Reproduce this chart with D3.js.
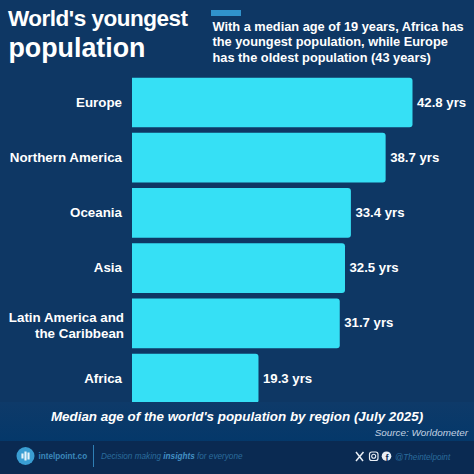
<!DOCTYPE html>
<html>
<head>
<meta charset="utf-8">
<script src="https://cdn.jsdelivr.net/npm/d3@7"></script>
<style>
html, body { margin: 0; padding: 0; background: #0e3764; }
svg { display: block; font-family: "Liberation Sans", Arial, sans-serif; }
</style>
</head>
<body>
<div id="chart"></div>
<script>
const regions = ["Europe", "Northern America", "Oceania", "Asia", "Latin America and|the Caribbean", "Africa"];
const medianAges = [42.8, 38.7, 33.4, 32.5, 31.7, 19.3];
const titleLines = ["World's youngest", "population"];
const subtitleLines = [
    "With a median age of 19 years, Africa has",
    "the youngest population, while Europe",
    "has the oldest population (43 years)"
];
const footerIconBars = [5, 9, 7];

const SIZE = 474;

const svg = d3.select("#chart").append("svg")
    .attr("width", SIZE)
    .attr("height", SIZE);

const defs = svg.append("defs");
const bandGradient = defs.append("linearGradient")
    .attr("id", "band")
    .attr("x1", 0).attr("x2", 0).attr("y1", 0).attr("y2", 1);
bandGradient.append("stop").attr("offset", 0).attr("stop-color", "#0e3a69");
bandGradient.append("stop").attr("offset", 1).attr("stop-color", "#04386a");

svg.append("rect")
    .attr("width", SIZE).attr("height", SIZE)
    .attr("fill", "#0e3764");

// title block, the second line is set larger
svg.append("g").selectAll("text")
    .data(titleLines)
    .join("text")
    .attr("x", (d, i) => i === 0 ? 8 : 8.5)
    .attr("y", (d, i) => i === 0 ? 26 : 57)
    .attr("fill", "#fff")
    .attr("font-size", (d, i) => i === 0 ? 22.5 : 26.8)
    .attr("font-weight", 700)
    .attr("letter-spacing", (d, i) => i === 0 ? -0.5 : 0)
    .text(d => d);

svg.append("rect")
    .attr("x", 211).attr("y", 10).attr("width", 30).attr("height", 6)
    .attr("fill", "#3093cc");

svg.append("g").selectAll("text")
    .data(subtitleLines)
    .join("text")
    .attr("x", 212.5)
    .attr("y", (d, i) => 30.5 + i * 15.6)
    .attr("fill", "#fff")
    .attr("font-size", 12.8)
    .attr("font-weight", 700)
    .text(d => d);

// bars
const x = d3.scaleLinear().domain([0, 42.8]).range([132, 412.5]);
const y = d3.scaleBand()
    .domain(regions)
    .range([74.9, 406.1])
    .paddingInner(0.1)
    .paddingOuter(0.05);

const barPath = d => {
    const x0 = x(0), x1 = x(d.value), y0 = y(d.region), h = y.bandwidth(), r = 3;
    const p = d3.path();
    p.moveTo(x0, y0);
    p.lineTo(x1 - r, y0);
    p.quadraticCurveTo(x1, y0, x1, y0 + r);
    p.lineTo(x1, y0 + h - r);
    p.quadraticCurveTo(x1, y0 + h, x1 - r, y0 + h);
    p.lineTo(x0, y0 + h);
    p.closePath();
    return p.toString();
};

const rows = regions.map((region, i) => ({ region, value: medianAges[i] }));

svg.append("g").selectAll("path")
    .data(rows)
    .join("path")
    .attr("d", barPath)
    .attr("fill", "#36e0f5");

svg.append("g").selectAll("text")
    .data(rows)
    .join("text")
    .attr("x", d => x(d.value) + 4.5)
    .attr("y", d => y(d.region) + y.bandwidth() / 2 + 4)
    .attr("fill", "#fff")
    .attr("font-size", 13.2)
    .attr("font-weight", 700)
    .text(d => d.value.toFixed(1) + " yrs");

const labels = svg.append("g").selectAll("text")
    .data(rows)
    .join("text")
    .attr("text-anchor", "end")
    .attr("fill", "#fff")
    .attr("font-size", 13.35)
    .attr("font-weight", 700)
    .attr("y", d => y(d.region) + y.bandwidth() / 2 + 4);

labels.selectAll("tspan")
    .data(d => d.region.split("|").map((t, i, all) => ({ t, i, n: all.length })))
    .join("tspan")
    .attr("x", d => d.n === 1 ? 122 : 124)
    .attr("dy", d => d.n === 1 ? 0 : (d.i === 0 ? -5.5 : 16.5))
    .text(d => d.t);

// caption band sits over the foot of the last bar
svg.append("rect")
    .attr("y", 402).attr("width", SIZE).attr("height", 40)
    .attr("fill", "url(#band)");

svg.append("rect")
    .attr("y", 441).attr("width", SIZE).attr("height", 33)
    .attr("fill", "#0a2a52");

svg.append("text")
    .attr("x", 237).attr("y", 421)
    .attr("text-anchor", "middle")
    .attr("fill", "#fff")
    .attr("font-size", 13.4)
    .attr("font-weight", 700)
    .attr("font-style", "italic")
    .text("Median age of the world's population by region (July 2025)");

svg.append("text")
    .attr("x", 468).attr("y", 436)
    .attr("text-anchor", "end")
    .attr("fill", "#c3d2e2")
    .attr("font-size", 9.9)
    .attr("font-style", "italic")
    .text("Source: Worldometer");

// footer
const iconX = d3.scaleBand().domain(d3.range(footerIconBars.length)).range([20.5, 30.5]).padding(0.3);
svg.append("circle").attr("cx", 25.5).attr("cy", 456).attr("r", 9).attr("fill", "#3a9ed3");
svg.append("g").selectAll("rect")
    .data(footerIconBars)
    .join("rect")
    .attr("x", (d, i) => iconX(i))
    .attr("y", d => 456 - d / 2)
    .attr("width", iconX.bandwidth())
    .attr("height", d => d)
    .attr("fill", "#e6f3fa");

svg.append("text")
    .attr("x", 38.5).attr("y", 459.2)
    .attr("fill", "#3b88ba")
    .attr("font-size", 8.2)
    .attr("font-weight", 700)
    .text("intelpoint.co");

svg.append("rect")
    .attr("x", 93).attr("y", 445).attr("width", 1).attr("height", 22)
    .attr("fill", "#2f7fb5");

const tagline = svg.append("text")
    .attr("x", 101).attr("y", 459)
    .attr("fill", "#2a6c9c")
    .attr("font-size", 8.2)
    .attr("font-style", "italic");
tagline.append("tspan").text("Decision making ");
tagline.append("tspan").attr("font-weight", 700).attr("fill", "#4390c4").text("insights");
tagline.append("tspan").text(" for everyone");

// social icons
const xMark = d3.path();
xMark.moveTo(356, 452);
xMark.lineTo(363, 461);
xMark.moveTo(363.5, 452);
xMark.lineTo(356, 461);
svg.append("path")
    .attr("d", xMark.toString())
    .attr("fill", "none")
    .attr("stroke", "#e8eef5")
    .attr("stroke-width", 1.5);

svg.append("rect")
    .attr("x", 369.5).attr("y", 452).attr("width", 8.5).attr("height", 8.5).attr("rx", 2.3)
    .attr("fill", "none").attr("stroke", "#e8eef5").attr("stroke-width", 1.2);
svg.append("circle").attr("cx", 373.7).attr("cy", 456.2).attr("r", 2)
    .attr("fill", "none").attr("stroke", "#e8eef5").attr("stroke-width", 1.1);

svg.append("circle").attr("cx", 386.5).attr("cy", 456.2).attr("r", 4.8).attr("fill", "#e8eef5");
svg.append("text")
    .attr("x", 387).attr("y", 460.8)
    .attr("text-anchor", "middle")
    .attr("fill", "#0a2a52")
    .attr("font-size", 9)
    .attr("font-weight", 700)
    .text("f");

svg.append("text")
    .attr("x", 395).attr("y", 460)
    .attr("fill", "#2a6c9c")
    .attr("font-size", 8.2)
    .attr("font-style", "italic")
    .text("@Theintelpoint");
</script>
</body>
</html>
